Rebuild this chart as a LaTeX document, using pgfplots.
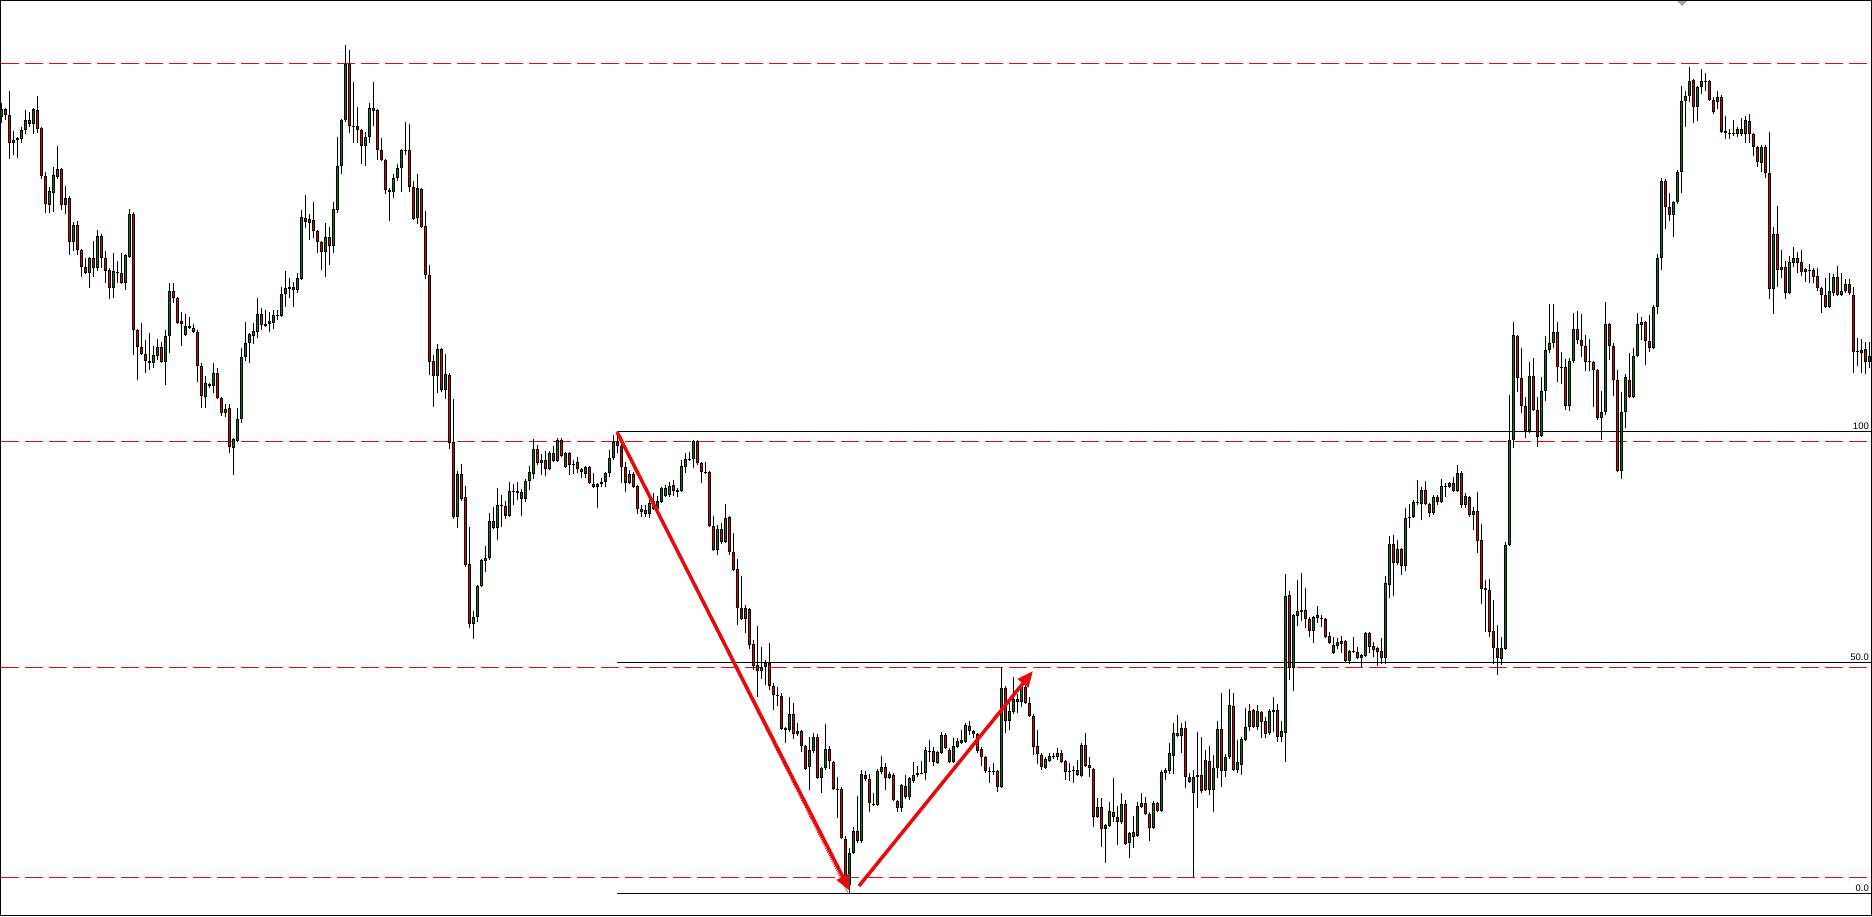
\documentclass[border=0pt]{standalone}
\usepackage{fontspec}
\setmainfont{Liberation Sans}
\usepackage{pgfplots}
\usepackage{pgfplotstable}
\pgfplotsset{compat=1.18}
\usetikzlibrary{arrows.meta}
\definecolor{bull}{RGB}{0,128,0}
\definecolor{bear}{RGB}{225,0,0}
\definecolor{lvl}{RGB}{230,10,10}
\pgfplotstableread{
i o h l c
0 117 103 123 109
1 109 108 120 115
2 115 91 159 143
3 143 131 155 140
4 140 137 158 138
5 139 127 143 130
6 130 110 134 120
7 120 112 127 124
8 124 108 134 109
9 110 96 133 129
10 128 127 179 176
11 176 172 213 204
12 205 187 213 191
13 193 167 212 175
14 177 146 179 169
15 169 168 210 205
16 205 186 214 198
17 198 196 255 242
18 242 222 251 225
19 225 221 255 250
20 250 249 277 267
21 267 258 274 273
22 273 257 288 258
23 258 241 277 268
24 268 230 271 236
25 236 234 268 258
26 258 251 283 271
27 270 268 299 288
28 288 253 298 271
29 272 261 283 273
30 273 253 284 283
31 283 254 290 255
32 257 209 258 214
33 214 212 355 330
34 330 329 380 347
35 347 323 355 354
36 354 340 373 361
37 361 333 370 363
38 363 346 368 355
39 356 339 360 347
40 347 342 363 362
41 362 330 385 336
42 336 283 353 291
43 291 283 303 298
44 298 297 324 323
45 321 312 346 324
46 335 314 336 326
47 326 317 329 328
48 328 324 333 332
49 332 330 382 366
50 366 363 408 396
51 397 376 408 383
52 386 383 388 384
53 386 363 393 373
54 373 368 399 398
55 398 397 416 413
56 413 404 417 409
57 408 404 453 447
58 448 438 475 439
59 441 408 442 419
60 419 348 423 357
61 357 322 361 343
62 343 333 363 334
63 336 323 344 331
64 332 298 338 314
65 314 308 330 325
66 326 310 327 324
67 324 312 332 321
68 323 310 329 315
69 316 310 320 315
70 316 287 317 294
71 294 271 307 288
72 289 278 298 287
73 287 282 307 290
74 290 273 293 278
75 279 210 280 217
76 218 195 228 222
77 223 214 240 219
78 220 202 238 231
79 231 230 253 242
80 242 241 270 252
81 252 223 277 237
82 237 227 265 246
83 246 202 253 209
84 210 137 213 166
85 166 119 174 120
86 120 45 122 64
87 64 50 133 126
88 126 82 143 127
89 126 107 143 130
90 130 129 164 146
91 146 132 166 137
92 137 103 143 108
93 108 82 126 111
94 110 109 160 150
95 150 138 161 160
96 160 159 194 190
97 190 188 221 192
98 192 174 198 178
99 178 164 181 168
100 168 149 192 150
101 150 122 155 151
102 150 124 192 187
103 187 181 220 219
104 218 174 224 188
105 189 188 228 227
106 226 211 279 275
107 275 265 375 362
108 361 355 407 376
109 376 344 393 349
110 349 348 392 390
111 390 354 399 374
112 375 373 449 443
113 442 399 519 517
114 517 471 528 474
115 474 464 501 499
116 497 486 567 565
117 564 527 628 624
118 624 611 639 617
119 617 585 622 586
120 586 559 587 560
121 561 546 572 558
122 558 513 560 521
123 521 507 529 528
124 528 488 540 505
125 505 495 527 506
126 506 501 519 516
127 516 482 517 491
128 491 484 505 492
129 493 482 500 491
130 492 489 516 499
131 499 479 502 481
132 481 466 490 472
133 474 439 479 449
134 449 445 465 463
135 463 454 475 460
136 460 451 476 469
137 469 451 470 453
138 453 446 462 461
139 461 438 462 440
140 440 438 457 456
141 467 452 468 453
142 453 452 475 465
143 464 460 474 465
144 462 457 473 469
145 469 468 478 472
146 474 466 478 467
147 467 466 484 483
148 484 473 488 487
149 487 483 508 484
150 484 478 487 482
151 482 472 487 473
152 473 450 477 458
153 458 435 460 442
154 442 431 453 446
155 446 440 483 467
156 467 462 492 483
157 483 470 484 474
158 474 472 488 487
159 486 485 514 509
160 509 505 517 512
161 510 505 517 514
162 514 498 518 503
163 501 493 510 509
164 509 496 510 501
165 502 487 503 488
166 496 485 497 488
167 495 482 497 486
168 485 480 496 491
169 490 488 497 492
170 491 460 492 466
171 467 453 473 459
172 459 452 461 460
173 459 440 468 441
174 441 440 465 463
175 463 462 483 472
176 472 462 474 473
177 472 471 527 526
178 526 516 551 550
179 550 525 555 529
180 529 523 544 542
181 542 504 543 518
182 517 516 555 552
183 552 533 571 570
184 569 559 625 608
185 608 576 620 619
186 619 605 633 608
187 609 608 649 645
188 644 640 670 666
189 665 626 697 671
190 671 647 679 667
191 667 660 685 663
192 663 643 690 686
193 686 683 710 695
194 695 687 706 696
195 696 693 730 729
196 728 727 743 730
197 730 697 732 714
198 714 703 739 734
199 734 723 736 731
200 731 730 752 746
201 746 745 770 769
202 767 737 790 750
203 751 733 753 737
204 737 734 779 778
205 778 767 793 768
206 768 724 770 749
207 749 746 769 761
208 762 761 790 789
209 789 777 818 790
210 789 787 839 838
211 839 836 887 879
212 885 848 893 853
213 853 827 854 831
214 831 796 843 841
215 841 770 843 774
216 775 771 781 779
217 779 774 812 803
218 804 793 806 805
219 805 769 806 771
220 772 756 774 767
221 767 763 790 778
222 778 772 779 774
223 775 773 801 800
224 801 800 812 808
225 808 784 812 785
226 786 775 799 797
227 797 777 800 778
228 781 762 783 775
229 775 766 777 773
230 773.5 761 774 773
231 773 747 780 750
232 751 740 762 751
233 751 747 766 762
234 763 751 764 752
235 753 732 754 735
236 735 733 749 748
237 750 748 763 762
238 762 738 763 746
239 747 738 748 741
240 743 730 744 740
241 742 723 743 725
242 726 721 735 731
243 731 730 738 734
244 734 733 753 751
245 749 747 766 757
246 757 756 773 771
247 771 767 783 772
248 772 763 775 771
249 771 770 792 787
250 787 667 788 688
251 688 686 733 721
252 721 703 730 711
253 712 677 714 699
254 699 694 713 702
255 702 683 707 687
256 687 684 704 703
257 703 697 717 716
258 716 714 755 747
259 746 730 764 754
260 755 753 770 767
261 768 757 769 759
262 761 753 762 756
263 756 753 759 757
264 757 748 760 753
265 753 750 763 762
266 761 760 780 772
267 771 763 781 772
268 770 766 783 771
269 770 760 776 775
270 776 743 777 745
271 745 733 767 766
272 765 757 777 768
273 769 768 827 817
274 817 798 818 807
275 807 798 847 829
276 829 824 863 825
277 826 802 827 811
278 812 778 822 817
279 817 806 845 822
280 822 793 824 804
281 804 800 845 844
282 843 832 858 833
283 832 816 848 837
284 836 802 837 806
285 807 793 808 803
286 803 797 815 814
287 814 812 841 828
288 828 801 829 803
289 803 802 812 811
290 811 770 812 772
291 773 768 780 770
292 771 743 774 753
293 756 723 774 733
294 733 715 737 736
295 736 723 753 728
296 728 721 788 777
297 777 773 783 782
298 793 770 877 777
299 777 732 808 775
300 775 737 793 791
301 790 750 791 760
302 761 746 795 790
303 790 755 812 768
304 768 721 778 729
305 729 693 787 771
306 771 754 777 757
307 757 689 759 705
308 706 693 771 770
309 770 740 773 762
310 765 737 775 739
311 740 708 741 727
312 727 704 731 711
313 710 709 728 727
314 727 705 730 711
315 712 711 738 722
316 721 717 738 734
317 733 709 735 711
318 712 697 732 710
319 710 704 742 737
320 737 721 742 731
321 733 574 762 596
322 595 591 680 668
323 668 614 691 615
324 616 580 626 611
325 612 573 621 610
326 610 588 628 619
327 619 617 637 631
328 631 616 643 617
329 615 606 623 618
330 618 615 627 619
331 619 618 638 637
332 636 632 644 643
333 653 637 654 645
334 646 638 649 642
335 644 636 653 641
336 641 640 662 661
337 661 650 664 651
338 651 637 653 652
339 652 647 659 658
340 658 654 667 655
341 656 632 657 633
342 633 632 653 647
343 646 642 657 650
344 648 647 666 652
345 651 638 664 658
346 658 576 664 583
347 585 536 598 544
348 544 535 596 563
349 563 540 565 549
350 549 548 575 566
351 566 508 571 518
352 518 504 528 517
353 517 500 518 502
354 503 480 505 502
355 504 487 520 490
356 490 481 505 504
357 504 503 517 513
358 513 495 515 497
359 497 495 505 502
360 502 479 503 486
361 486 483 497 486
362 487 482 488 483
363 483 477 492 491
364 491 465 492 473
365 473 471 508 505
366 505 493 508 496
367 497 496 517 515
368 515 507 530 511
369 511 492 553 541
370 540 524 604 589
371 588 580 632 590
372 590 579 637 632
373 631 600 664 648
374 648 625 675 658
375 659 637 665 648
376 649 542 650 545
377 545 395 546 440
378 440 322 448 335
379 336 335 392 378
380 378 348 413 406
381 406 397 438 431
382 431 362 433 376
383 376 358 411 410
384 410 397 447 437
385 436 377 437 391
386 391 336 401 350
387 350 304 353 343
388 343 304 348 332
389 332 322 382 367
390 367 352 384 367.5
391 367 359 410 406
392 406 358 411 361
393 361 313 363 329
394 329 311 344 340
395 340 314 357 346
396 346 335 371 362
397 361 339 371 362
398 362 361 407 370
399 370 369 420 418
400 418 391 440 412
401 412 302 415 324
402 324 323 360 346
403 346 343 396 380
404 380 370 472 471
405 471 392 479 412
406 412 374 428 377
407 380 353 398 397
408 397 348 398 356
409 356 313 357 324
410 325 317 340 322
411 322 321 365 341
412 341 315 352 348
413 348 305 349 307
414 307 254 314 258
415 258 178 270 181
416 181 179 229 207
417 207 193 221 215
418 215 201 237 202
419 202 170 204 172
420 172 86 193 101
421 101 91 127 96
422 96 67 102 81
423 80 79 123 107
424 107 86 121 87
425 87 69 94 81
426 81 73 91 81.5
427 81 80 101 100
428 100 97 114 112
429 102 91 109 97
430 97 95 133 132
431 131 116 139 133
432 133 129 139 133.5
433 133 120 136 133.5
434 134 127 137 129
435 129 118 136 134
436 134 116 143 120
437 121 114 143 134
438 134 133 156 147
439 147 146 167 162
440 163 145 172 147
441 147 145 178 173
442 173 132 299 289
443 289 227 314 234
444 234 206 287 270
445 270 250 278 267
446 267 261 299 293
447 293 256 294 262
448 263 247 267 258
449 258 252 273 263
450 262 250 276 272
451 272 268 282 269
452 270 264 283 270.5
453 270 268 283 277
454 276 268 291 288
455 288 287 313 295
456 295 278 308 307
457 307 273 308 291
458 293 274 296 277
459 277 266 296 295
460 295 273 296 291
461 291 279 293 284
462 284 279 295 293
463 295 287 373 352
464 351 338 366 352
465 353 339 373 350
466 349 342 374 362
467 362 342 368 356
}\candles
% build one path per layer from the table
\def\wickp{}\def\bodyp{}\def\bullp{}\def\bearp{}
\pgfplotsforeachungrouped \k in {0,...,467}{%
  \pgfplotstablegetelem{\k}{o}\of\candles\let\vo\pgfplotsretval
  \pgfplotstablegetelem{\k}{h}\of\candles\let\vh\pgfplotsretval
  \pgfplotstablegetelem{\k}{l}\of\candles\let\vl\pgfplotsretval
  \pgfplotstablegetelem{\k}{c}\of\candles\let\vc\pgfplotsretval
  \pgfmathsetmacro\xx{1.5+4*\k}%
  \xdef\wickp{\wickp (\xx,\vh) (\xx,\vl) (\xx,nan)}%
  \pgfmathsetmacro\ya{min(\vo,\vc)}%
  \pgfmathsetmacro\yb{max(\vo,\vc)}%
  \pgfmathtruncatemacro\istiny{(\yb-\ya)<1}%
  \ifnum\istiny=1
    \pgfmathsetmacro\ya{(\vo+\vc)/2-0.5}%
    \pgfmathsetmacro\yb{(\vo+\vc)/2+0.5}%
  \fi
  \xdef\bodyp{\bodyp (\xx,\ya) (\xx,\yb) (\xx,nan)}%
  \pgfmathtruncatemacro\isbig{abs(\vo-\vc)>2}%
  \ifnum\isbig=1
    \pgfmathsetmacro\ya{min(\vo,\vc)+1}%
    \pgfmathsetmacro\yb{max(\vo,\vc)-1}%
    \pgfmathtruncatemacro\isbull{\vo>\vc}%
    \ifnum\isbull=1
      \xdef\bullp{\bullp (\xx,\ya) (\xx,\yb) (\xx,nan)}%
    \else
      \xdef\bearp{\bearp (\xx,\ya) (\xx,\yb) (\xx,nan)}%
    \fi
  \fi
}
\begin{document}
\begin{tikzpicture}
\path[use as bounding box] (0pt,0pt) rectangle (1872pt,916pt);
\begin{axis}[
  at={(0pt,0pt)}, anchor=south west,
  scale only axis, width=1872pt, height=916pt,
  xmin=0, xmax=1872, ymin=0, ymax=916,
  y dir=reverse, hide axis, clip=true,
  unbounded coords=jump,
]
% level lines
\draw[lvl, line width=1.1pt, dash pattern=on 18pt off 6pt] (axis cs:1,63.5) -- (axis cs:1867,63.5);
\draw[lvl, line width=1.1pt, dash pattern=on 18pt off 6pt] (axis cs:1,441.5) -- (axis cs:1867,441.5);
\draw[lvl, line width=1.1pt, dash pattern=on 18pt off 6pt] (axis cs:1,667.5) -- (axis cs:1867,667.5);
\draw[lvl, line width=1.1pt, dash pattern=on 18pt off 6pt] (axis cs:1,877.5) -- (axis cs:1867,877.5);
% fibo lines
\draw[black, line width=1.1pt] (axis cs:617,431.5) -- (axis cs:1872,431.5);
\draw[black, line width=1.1pt] (axis cs:617,662.5) -- (axis cs:1872,662.5);
\draw[black, line width=1.1pt] (axis cs:617,893.5) -- (axis cs:1872,893.5);
\node[anchor=base east, inner sep=0pt, font=\fontsize{9.5}{9.5}\selectfont] at (axis cs:1869,429.5) {100};
\node[anchor=base east, inner sep=0pt, font=\fontsize{9.5}{9.5}\selectfont] at (axis cs:1869,660.5) {50.0};
\node[anchor=base east, inner sep=0pt, font=\fontsize{9.5}{9.5}\selectfont] at (axis cs:1869,891.5) {0.0};
% candles
\edef\tmp{\noexpand\addplot[black, line width=1pt, mark=none] coordinates {\wickp};}\tmp
\edef\tmp{\noexpand\addplot[black, line width=3pt, mark=none] coordinates {\bodyp};}\tmp
\edef\tmp{\noexpand\addplot[bull, line width=1pt, mark=none] coordinates {\bullp};}\tmp
\edef\tmp{\noexpand\addplot[bear, line width=1pt, mark=none] coordinates {\bearp};}\tmp
% arrows
\draw[lvl, densely dotted, line width=1pt] (axis cs:617,431.5) -- (axis cs:848,893);
\draw[lvl, line width=3.5pt, -{Triangle[length=16pt,width=13pt]}] (axis cs:617,432) -- (axis cs:850,891);
\draw[lvl, line width=3.5pt, -{Triangle[length=16pt,width=13pt]}] (axis cs:859,886) -- (axis cs:1033,671);
% marker and frame
\fill[black!35] (axis cs:1677,1) -- (axis cs:1687,1) -- (axis cs:1682,6) -- cycle;
\draw[black, line width=1pt] (axis cs:0.5,0.5) rectangle (axis cs:1871.5,915.5);
\end{axis}
\end{tikzpicture}
\end{document}
